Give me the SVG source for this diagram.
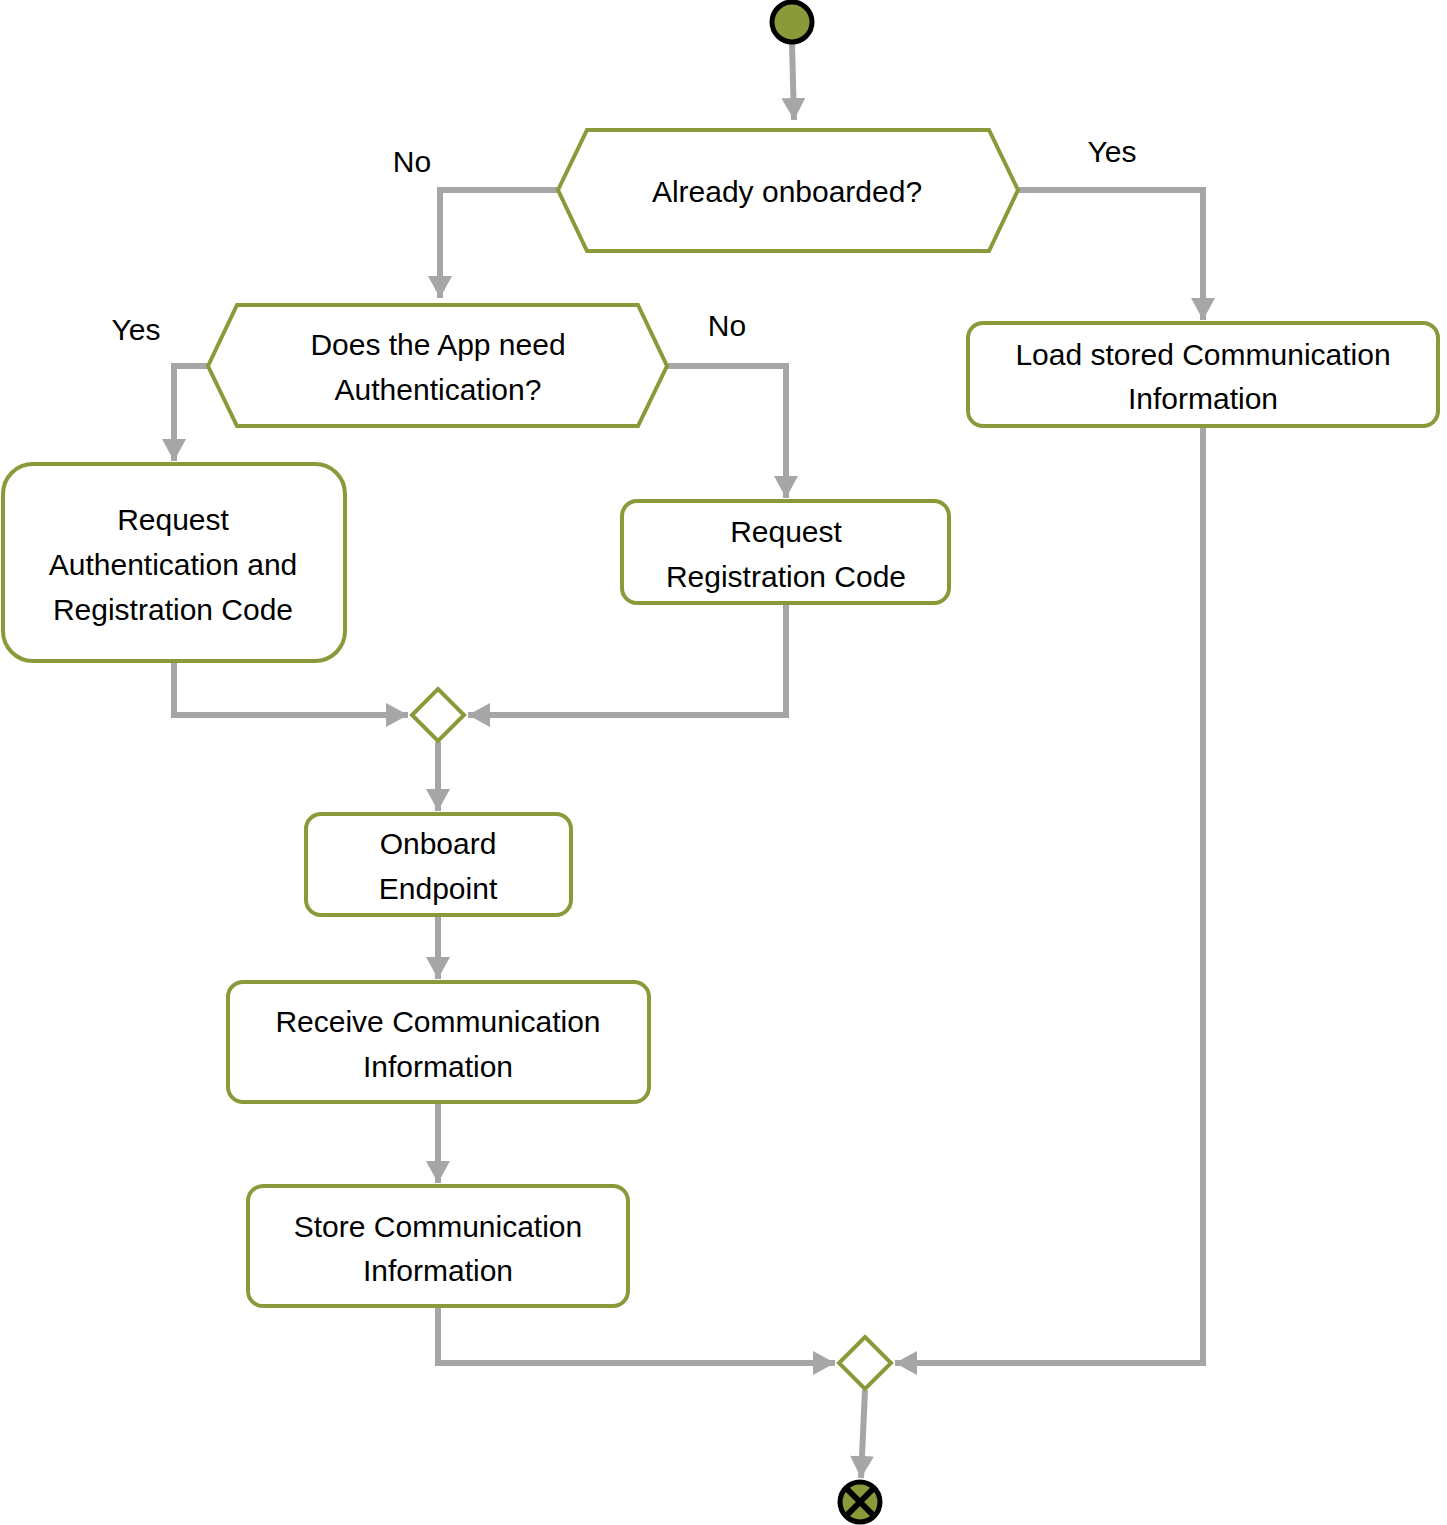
<svg xmlns="http://www.w3.org/2000/svg" width="1447" height="1525" viewBox="0 0 1447 1525">
<defs>
<marker id="ar" markerUnits="userSpaceOnUse" markerWidth="26" markerHeight="26" refX="22" refY="12" orient="auto"><path d="M0,0 L22,12 L0,24 Z" fill="#a6a6a6"/></marker>
<style>
.n{fill:#fff;stroke:#8a9a3a;stroke-width:4}
.c{fill:none;stroke:#a6a6a6;stroke-width:6;marker-end:url(#ar)}
text{font-family:"Liberation Sans",Arial,sans-serif;font-size:30px;fill:#000;text-anchor:middle}
</style>
</defs>
<rect width="1447" height="1525" fill="#fff"/>
<g id="connectors">
<polyline class="c" points="792,44 794,120"/>
<polyline class="c" points="558,190 440,190 440,298"/>
<polyline class="c" points="1018,190 1203,190 1203,320"/>
<polyline class="c" points="208,366 174,366 174,461"/>
<polyline class="c" points="667,366 786,366 786,498"/>
<polyline class="c" points="174,661 174,715 408,715"/>
<polyline class="c" points="786,603 786,715 468,715"/>
<polyline class="c" points="438,742 438,811"/>
<polyline class="c" points="438,915 438,979"/>
<polyline class="c" points="438,1102 438,1183"/>
<polyline class="c" points="438,1306 438,1363 835,1363"/>
<polyline class="c" points="1203,426 1203,1363 895,1363"/>
<polyline class="c" points="865,1390 861,1478"/>
</g>
<g id="start"><circle cx="792" cy="22" r="20" fill="#8a9a3a" stroke="#000" stroke-width="5"/></g>
<g id="q1"><polygon class="n" points="558,190 587,130 989,130 1018,190 989,251 587,251"/><text x="787" y="202">Already onboarded?</text></g>
<g id="q2"><polygon class="n" points="208,366 237,305 638,305 667,366 638,426 237,426"/><text x="438" y="355">Does the App need</text><text x="438" y="400">Authentication?</text></g>
<g id="load"><rect class="n" x="968" y="323" width="470" height="103" rx="15"/><text x="1203" y="365">Load stored Communication</text><text x="1203" y="409">Information</text></g>
<g id="reqauth"><rect class="n" x="3" y="464" width="342" height="197" rx="30"/><text x="173" y="530">Request</text><text x="173" y="575">Authentication and</text><text x="173" y="620">Registration Code</text></g>
<g id="reqreg"><rect class="n" x="622" y="501" width="327" height="102" rx="15"/><text x="786" y="542">Request</text><text x="786" y="587">Registration Code</text></g>
<g id="merge1"><polygon class="n" points="438,689 464,715 438,741 412,715"/></g>
<g id="onboard"><rect class="n" x="306" y="814" width="265" height="101" rx="15"/><text x="438" y="854">Onboard</text><text x="438" y="899">Endpoint</text></g>
<g id="receive"><rect class="n" x="228" y="982" width="421" height="120" rx="15"/><text x="438" y="1032">Receive Communication</text><text x="438" y="1077">Information</text></g>
<g id="store"><rect class="n" x="248" y="1186" width="380" height="120" rx="15"/><text x="438" y="1237">Store Communication</text><text x="438" y="1281">Information</text></g>
<g id="merge2"><polygon class="n" points="865,1337 891,1363 865,1389 839,1363"/></g>
<g id="end"><circle cx="860" cy="1502" r="20" fill="#8a9a3a" stroke="#000" stroke-width="5"/><path d="M846,1488 L874,1516 M874,1488 L846,1516" stroke="#000" stroke-width="6"/></g>
<g id="labels"><text x="412" y="172">No</text><text x="1112" y="162">Yes</text><text x="136" y="340">Yes</text><text x="727" y="336">No</text></g>
</svg>
